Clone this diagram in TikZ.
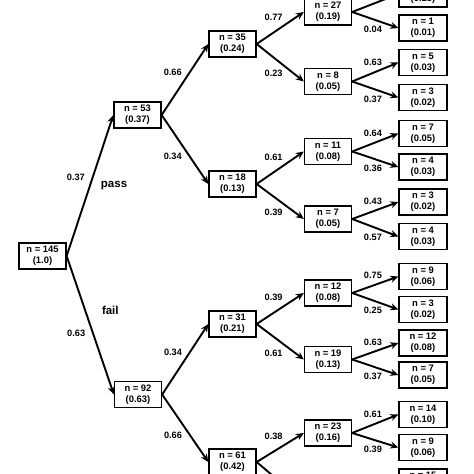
\documentclass[tikz,border=0pt]{standalone}
\usepackage{fontspec}
\setmainfont{Liberation Sans}
\usetikzlibrary{arrows.meta}

\begin{document}
\begin{tikzpicture}[x=1pt,y=-1pt,
  box/.style={draw,line width=1.3pt,minimum width=47pt,minimum height=26pt,inner sep=0pt,align=center,font=\fontsize{9.4}{11}\selectfont\bfseries},
  edge/.style={line width=1.9pt,-{Stealth[length=8pt,width=7pt]}},
  lbl/.style={inner sep=0pt,font=\fontsize{9.2}{11}\selectfont\bfseries},
  word/.style={inner sep=0pt,font=\fontsize{11.5}{13}\selectfont\bfseries}]
  \useasboundingbox (0,0) rectangle (474,474);
  \clip (0,0) rectangle (474,474);
  \node[box] (n145) at (42.5,256) {n = 145\\(1.0)};
  \node[box] (n53) at (137.5,115) {n = 53\\(0.37)};
  \node[box] (n92) at (138,394.5) {n = 92\\(0.63)};
  \node[box] (n35) at (232.5,44) {n = 35\\(0.24)};
  \node[box] (n18) at (232.5,184) {n = 18\\(0.13)};
  \node[box] (n31) at (232.5,324) {n = 31\\(0.21)};
  \node[box] (n61) at (232.5,462) {n = 61\\(0.42)};
  \node[box] (n27) at (328,12) {n = 27\\(0.19)};
  \node[box] (n8) at (328,81.5) {n = 8\\(0.05)};
  \node[box] (n11) at (328,151.5) {n = 11\\(0.08)};
  \node[box] (n7) at (328,219) {n = 7\\(0.05)};
  \node[box] (n12) at (328,293) {n = 12\\(0.08)};
  \node[box] (n19) at (328,359.5) {n = 19\\(0.13)};
  \node[box] (n23) at (328,433) {n = 23\\(0.16)};
  \coordinate (c38) at (305,503);
  \node[box,minimum width=48pt] (n26) at (423,-6) {n = 26\\(0.18)};
  \node[box,minimum width=48pt] (n1) at (423,28) {n = 1\\(0.01)};
  \node[box,minimum width=48pt] (n5) at (423,62.5) {n = 5\\(0.03)};
  \node[box,minimum width=48pt] (n3a) at (423,97.5) {n = 3\\(0.02)};
  \node[box,minimum width=48pt] (n7b) at (423,133.5) {n = 7\\(0.05)};
  \node[box,minimum width=48pt] (n4a) at (423,167) {n = 4\\(0.03)};
  \node[box,minimum width=48pt] (n3b) at (423,202) {n = 3\\(0.02)};
  \node[box,minimum width=48pt] (n4b) at (423,236.5) {n = 4\\(0.03)};
  \node[box,minimum width=48pt] (n9a) at (423,276.5) {n = 9\\(0.06)};
  \node[box,minimum width=48pt] (n3c) at (423,309.5) {n = 3\\(0.02)};
  \node[box,minimum width=48pt] (n12b) at (423,343) {n = 12\\(0.08)};
  \node[box,minimum width=48pt] (n7c) at (423,375) {n = 7\\(0.05)};
  \node[box,minimum width=48pt] (n14) at (423,414.5) {n = 14\\(0.10)};
  \node[box,minimum width=48pt] (n9b) at (423,447.5) {n = 9\\(0.06)};
  \node[box,minimum width=48pt] (n15) at (423,482) {n = 15\\(0.10)};
  \draw[edge] (n145.east) -- (n53.west) node[lbl,pos=0.56,left=7pt] (p53) {0.37} node[word,pos=0.5,right=10pt] (pass) {pass};
  \draw[edge] (n145.east) -- (n92.west) node[lbl,pos=0.56,left=7pt] (p92) {0.63} node[word,pos=0.39,right=16pt] (fail) {fail};
  \draw[edge] (n53.east) -- (n35.west) node[lbl,pos=0.6,left=7pt] (p35) {0.66};
  \draw[edge] (n53.east) -- (n18.west) node[lbl,pos=0.6,left=7pt] (p18) {0.34};
  \draw[edge] (n92.east) -- (n31.west) node[lbl,pos=0.6,left=7pt] (p31) {0.34};
  \draw[edge] (n92.east) -- (n61.west) node[lbl,pos=0.6,left=7pt] (p61) {0.66};
  \draw[edge] (n35.east) -- (n27.west) node[lbl,pos=0.36,above=11pt] (p27) {0.77};
  \draw[edge] (n35.east) -- (n8.west) node[lbl,pos=0.36,below=12pt] (p8) {0.23};
  \draw[edge] (n18.east) -- (n11.west) node[lbl,pos=0.36,above=11pt] (p11) {0.61};
  \draw[edge] (n18.east) -- (n7.west) node[lbl,pos=0.36,below=12pt] (p7) {0.39};
  \draw[edge] (n31.east) -- (n12.west) node[lbl,pos=0.36,above=11pt] (p12) {0.39};
  \draw[edge] (n31.east) -- (n19.west) node[lbl,pos=0.36,below=12pt] (p19) {0.61};
  \draw[edge] (n61.east) -- (n23.west) node[lbl,pos=0.36,above=11pt] (p23) {0.38};
  \draw[edge] (n61.east) -- (c38);
  \draw[edge] (n27.east) -- (n26.west);
  \draw[edge] (n27.east) -- (n1.west) node[lbl,pos=0.45,below=6pt] (p1) {0.04};
  \draw[edge] (n8.east) -- (n5.west) node[lbl,pos=0.45,above=6pt] (p5) {0.63};
  \draw[edge] (n8.east) -- (n3a.west) node[lbl,pos=0.45,below=6pt] (p3a) {0.37};
  \draw[edge] (n11.east) -- (n7b.west) node[lbl,pos=0.45,above=6pt] (p7b) {0.64};
  \draw[edge] (n11.east) -- (n4a.west) node[lbl,pos=0.45,below=6pt] (p4a) {0.36};
  \draw[edge] (n7.east) -- (n3b.west) node[lbl,pos=0.45,above=6pt] (p3b) {0.43};
  \draw[edge] (n7.east) -- (n4b.west) node[lbl,pos=0.45,below=6pt] (p4b) {0.57};
  \draw[edge] (n12.east) -- (n9a.west) node[lbl,pos=0.45,above=6pt] (p9a) {0.75};
  \draw[edge] (n12.east) -- (n3c.west) node[lbl,pos=0.45,below=6pt] (p3c) {0.25};
  \draw[edge] (n19.east) -- (n12b.west) node[lbl,pos=0.45,above=6pt] (p12b) {0.63};
  \draw[edge] (n19.east) -- (n7c.west) node[lbl,pos=0.45,below=6pt] (p7c) {0.37};
  \draw[edge] (n23.east) -- (n14.west) node[lbl,pos=0.45,above=6pt] (p14) {0.61};
  \draw[edge] (n23.east) -- (n9b.west) node[lbl,pos=0.45,below=6pt] (p9b) {0.39};
\end{tikzpicture}
\end{document}
